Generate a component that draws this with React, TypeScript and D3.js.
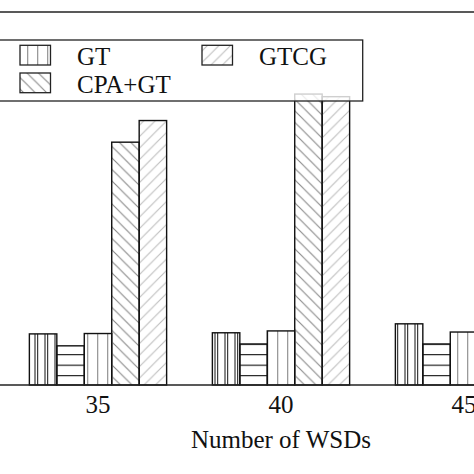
import React from "react";
import * as d3 from "d3";

const groups = ["35", "40", "45"];
const seriesKeys = ["s1", "s2", "GT", "CPA+GT", "GTCG"];
const seriesLabels = ["", "", "GT", "CPA+GT", "GTCG"];
// values per group, in series order (null = outside the visible crop)
const values35 = [13.7, 10.5, 13.8, 65.1, 70.9];
const values40 = [14.0, 11.0, 14.5, 78.0, 77.3];
const values45 = [16.4, 11.0, 14.2, null, null];
const groupValues = [values35, values40, values45];
const xLabel = "Number of WSDs";

const W = 474;
const H = 474;
const FONT = "'Liberation Serif', 'Times New Roman', serif";
const patternIds = ["pv2", "ph", "pv", "pbs", "pfs"];
const D = 11.5;

export default function App() {
  const baseY = 385;
  const topY = 12;
  const x0 = d3
    .scaleBand<string>()
    .domain(groups)
    .range([6.5, 555.5])
    .paddingInner(0.25)
    .paddingOuter(0.125);
  const x1 = d3.scaleBand<string>().domain(seriesKeys).range([0, x0.bandwidth()]);
  const y = d3.scaleLinear().domain([0, 100]).range([baseY, topY]);

  // legend layout: column-major, 3 columns, 2 rows; first column is cropped off
  const colX = [-162, 20, 202];
  const rowY = [45.3, 73];
  const legendItems = seriesKeys.map((k, i) => ({
    k,
    i,
    label: seriesLabels[i],
    col: Math.floor(i / 2),
    row: i % 2,
  }));

  return (
    <svg
      width={W}
      height={H}
      viewBox={`0 0 ${W} ${H}`}
      style={{ position: "absolute", left: 0, top: 0, background: "#fff" }}
    >
      <defs>
        <pattern id="pv2" patternUnits="userSpaceOnUse" width={10} height={10}>
          <line x1={5} y1={0} x2={5} y2={10} stroke="#111" strokeWidth={1} />
          <line x1={7.7} y1={0} x2={7.7} y2={10} stroke="#111" strokeWidth={1} />
        </pattern>
        <pattern id="ph" patternUnits="userSpaceOnUse" width={10} height={10.5}>
          <line x1={0} y1={8.2} x2={10} y2={8.2} stroke="#111" strokeWidth={1.1} />
        </pattern>
        <pattern id="pv" patternUnits="userSpaceOnUse" width={10} height={10}>
          <line x1={7.7} y1={0} x2={7.7} y2={10} stroke="#888" strokeWidth={1.1} />
        </pattern>
        <pattern id="pbs" patternUnits="userSpaceOnUse" width={D} height={D}>
          <line x1={-1} y1={-1} x2={D + 1} y2={D + 1} stroke="#888" strokeWidth={1.1} />
          <line x1={-1} y1={D - 1} x2={1} y2={D + 1} stroke="#888" strokeWidth={1.1} />
          <line x1={D - 1} y1={-1} x2={D + 1} y2={1} stroke="#888" strokeWidth={1.1} />
        </pattern>
        <pattern id="pfs" patternUnits="userSpaceOnUse" width={D} height={D}>
          <line x1={-1} y1={D + 1} x2={D + 1} y2={-1} stroke="#bdbdbd" strokeWidth={1.1} />
          <line x1={-1} y1={1} x2={1} y2={-1} stroke="#bdbdbd" strokeWidth={1.1} />
          <line x1={D - 1} y1={D + 1} x2={D + 1} y2={D - 1} stroke="#bdbdbd" strokeWidth={1.1} />
        </pattern>
      </defs>

      {/* bars */}
      {groups.map((g, gi) =>
        seriesKeys.map((k, si) => {
          const v = groupValues[gi][si];
          if (v == null) return null;
          const bx = (x0(g) ?? 0) + (x1(k) ?? 0);
          const by = y(v);
          return (
            <rect
              key={`${g}-${k}`}
              x={bx}
              y={by}
              width={x1.bandwidth()}
              height={baseY - by}
              fill={`url(#${patternIds[si]})`}
              stroke="#111"
              strokeWidth={1.4}
            />
          );
        })
      )}

      {/* frame lines */}
      <line x1={0} x2={W} y1={topY} y2={topY} stroke="#222" strokeWidth={1.3} />
      <line x1={0} x2={W} y1={baseY} y2={baseY} stroke="#222" strokeWidth={1.5} />

      {/* tick labels */}
      {groups.map((g) => (
        <text
          key={g}
          x={(x0(g) ?? 0) + x0.bandwidth() / 2}
          y={413}
          textAnchor="middle"
          fontFamily={FONT}
          fontSize={25}
          fill="#111"
        >
          {g}
        </text>
      ))}
      <text
        x={(x0("40") ?? 0) + x0.bandwidth() / 2}
        y={448}
        textAnchor="middle"
        fontFamily={FONT}
        fontSize={25}
        fill="#111"
      >
        {xLabel}
      </text>

      {/* legend */}
      <rect
        x={-20}
        y={40}
        width={382.7}
        height={61}
        fill="#fff"
        fillOpacity={0.8}
        stroke="#222"
        strokeWidth={1.3}
      />
      {legendItems
        .filter((d) => d.label !== "")
        .map((d) => (
          <g key={d.k}>
            <rect
              x={colX[d.col]}
              y={rowY[d.row]}
              width={30.5}
              height={19.7}
              fill={`url(#${patternIds[d.i]})`}
              stroke="#222"
              strokeWidth={1.3}
            />
            <text
              x={colX[d.col] + 57}
              y={rowY[d.row] + 19.5}
              fontFamily={FONT}
              fontSize={25}
              fill="#111"
            >
              {d.label}
            </text>
          </g>
        ))}
    </svg>
  );
}
